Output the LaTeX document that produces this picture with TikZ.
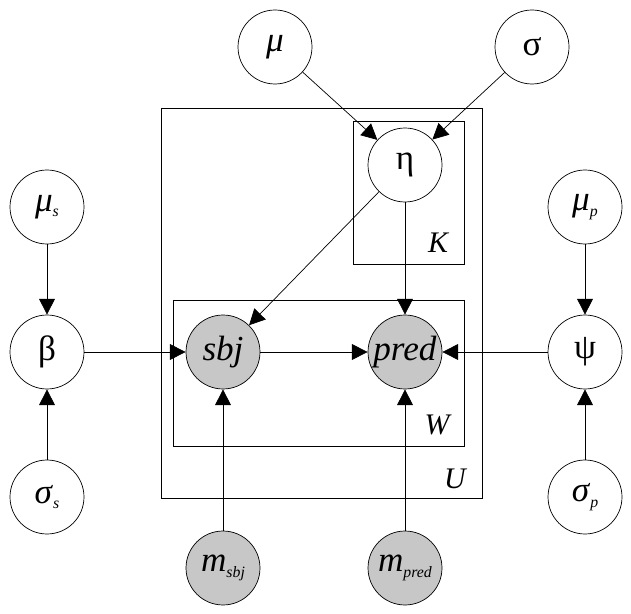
\documentclass[tikz,border=0pt]{standalone}
\usepackage{fontspec}
\setmainfont{Liberation Serif}
\usetikzlibrary{arrows.meta}
\newcommand{\sub}[2]{\textit{#1}\raisebox{-0.35ex}{\small\textit{#2}}}
\begin{document}
\begin{tikzpicture}[x=0.02cm,y=-0.02cm,
  var/.style={circle,draw,minimum size=1.48cm,inner sep=0pt,font=\fontsize{20}{20}\selectfont},
  obs/.style={var,fill=black!22},
  edge/.style={-{Triangle[length=9pt,width=9pt]}},
  plate/.style={draw},
  lab/.style={font=\fontsize{17}{17}\selectfont\itshape}]
\useasboundingbox (0,0) rectangle (631,614);
% plates
\draw[plate] (161,108) rectangle (482,498);
\draw[plate] (353,121) rectangle (464,264);
\draw[plate] (173,300) rectangle (464,446);
\node[lab] (klab) at (438,243) {K};
\node[lab] (wlab) at (437,425) {W};
\node[lab] (ulab) at (455,479) {U};
% variables
\node[var] (mu) at (275,47) {\textit{μ}};
\node[var] (sigma) at (532,47) {σ};
\node[var] (eta) at (405,165) {η};
\node[var] (mus) at (47,207) {\sub{μ}{s}};
\node[var] (beta) at (47,352) {β};
\node[var] (sigmas) at (47,497) {\sub{σ}{s}};
\node[obs] (sbj) at (223,352) {\textit{sbj}};
\node[obs] (pred) at (405,352) {\textit{pred}};
\node[var] (mup) at (585,207) {\sub{μ}{p}};
\node[var] (psi) at (585,352) {ψ};
\node[var] (sigmap) at (585,497) {\sub{σ}{p}};
\node[obs] (msbj) at (223,568) {\sub{m}{sbj}};
\node[obs] (mpred) at (405,568) {\sub{m}{pred}};
% edges
\draw[edge] (mu) -- (eta);
\draw[edge] (sigma) -- (eta);
\draw[edge] (eta) -- (sbj);
\draw[edge] (eta) -- (pred);
\draw[edge] (mus) -- (beta);
\draw[edge] (sigmas) -- (beta);
\draw[edge] (beta) -- (sbj);
\draw[edge] (sbj) -- (pred);
\draw[edge] (psi) -- (pred);
\draw[edge] (mup) -- (psi);
\draw[edge] (sigmap) -- (psi);
\draw[edge] (msbj) -- (sbj);
\draw[edge] (mpred) -- (pred);
\end{tikzpicture}
\end{document}
